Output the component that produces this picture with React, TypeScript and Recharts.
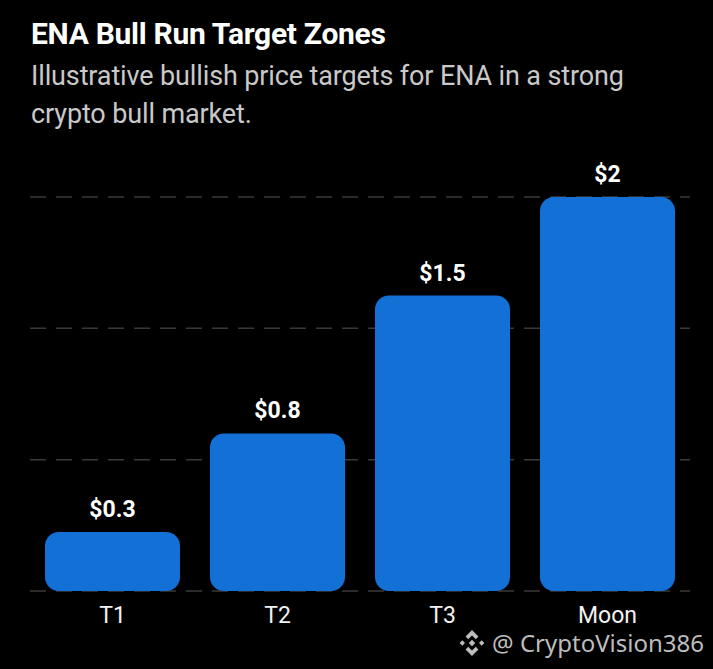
import { BarChart, Bar, XAxis, YAxis, CartesianGrid, LabelList } from "recharts";

const categories = ["T1", "T2", "T3", "Moon"];
const targets = [0.3, 0.8, 1.5, 2];
const yTicks = [0, 0.6667, 1.3333, 2];

const data = categories.map((name, i) => ({ name, target: targets[i] }));

const font = "Roboto, sans-serif";

function BinanceMark() {
  return (
    <svg width="28" height="28" viewBox="0 0 26 26" style={{ marginRight: 6 }}>
      <g fill="#bdbdbd">
        <path d="M13 1 L19 7 L16.5 9.5 L13 6 L9.5 9.5 L7 7 Z" />
        <path d="M13 25 L19 19 L16.5 16.5 L13 20 L9.5 16.5 L7 19 Z" />
        <path d="M4 10.500 L6.500 13 L4 15.500 L1.500 13 Z" />
        <path d="M22 10.500 L24.500 13 L22 15.500 L19.500 13 Z" />
        <path d="M13 10 L16 13 L13 16 L10 13 Z" />
      </g>
    </svg>
  );
}

export default function App() {
  return (
    <div
      style={{
        position: "absolute",
        left: 0,
        top: 0,
        width: 713,
        height: 669,
        background: "#000",
        overflow: "hidden",
        fontFamily: font,
      }}
    >
      <div
        style={{
          position: "absolute",
          left: 31,
          top: 16,
          fontSize: 30,
          lineHeight: "36px",
          fontWeight: 700,
          letterSpacing: -0.3,
          color: "#fff",
          whiteSpace: "nowrap",
        }}
      >
        ENA Bull Run Target Zones
      </div>
      <div
        style={{
          position: "absolute",
          left: 31,
          top: 57,
          fontSize: 27,
          lineHeight: "38px",
          letterSpacing: -0.13,
          color: "#c9c9c9",
          whiteSpace: "nowrap",
        }}
      >
        Illustrative bullish price targets for ENA in a strong
        <br />
        crypto bull market.
      </div>
      <div style={{ position: "absolute", left: 0, top: 0 }}>
        <BarChart
          width={713}
          height={669}
          data={data}
          margin={{ top: 197, right: 23, bottom: 48, left: 30 }}
          barCategoryGap={15}
        >
          <CartesianGrid
            vertical={false}
            stroke="#3a3a3a"
            strokeWidth={1.5}
            strokeDasharray="16 10"
          />
          <XAxis
            dataKey="name"
            axisLine={false}
            tickLine={false}
            tickMargin={10}
            tick={{ fill: "#f2f2f2", fontSize: 23, fontFamily: font }}
            interval={0}
          />
          <YAxis hide domain={[0, 2]} ticks={yTicks} />
          <Bar dataKey="target" fill="#1370d6" radius={14} isAnimationActive={false}>
            <LabelList
              dataKey="target"
              position="top"
              offset={15}
              formatter={(v: number) => `$${v}`}
              style={{ fill: "#fff", fontSize: 23, fontWeight: 700, fontFamily: font }}
            />
          </Bar>
        </BarChart>
      </div>
      <div
        style={{
          position: "absolute",
          right: 9,
          top: 628,
          display: "flex",
          alignItems: "center",
          fontFamily: "'Noto Sans', sans-serif",
          fontSize: 24,
          lineHeight: "30px",
          color: "#bdbdbd",
          whiteSpace: "nowrap",
        }}
      >
        <BinanceMark />@ CryptoVision386
      </div>
    </div>
  );
}
